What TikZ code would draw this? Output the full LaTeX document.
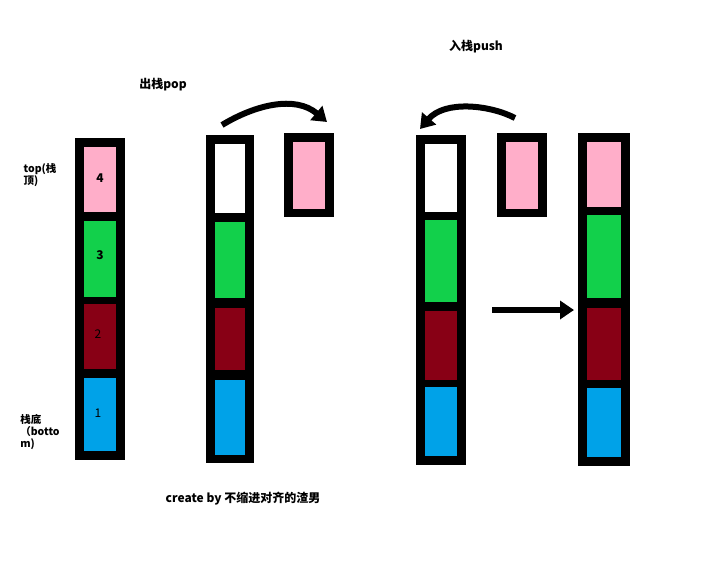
\documentclass[tikz,border=0pt]{standalone}
\usepackage{fontspec}
\setmainfont{Noto Sans CJK SC}
\usetikzlibrary{arrows.meta}
\definecolor{cellpink}{HTML}{FFAEC9}
\definecolor{cellgreen}{HTML}{12D04B}
\definecolor{cellred}{HTML}{880015}
\definecolor{cellblue}{HTML}{00A2E8}
\tikzset{
  frame/.style={draw=black,line width=7pt},
  cell/.style={draw=none},
  push arrow/.style={line width=6pt,-{Triangle[length=14pt,width=18pt]}},
  lbl/.style={font=\bfseries\fontsize{12pt}{14pt}\selectfont},
}
\begin{document}
\begin{tikzpicture}[x=1pt,y=-1pt]
    \useasboundingbox (0,0) rectangle (710,586);
    % stack 1
    \fill[black] (75,138) rectangle (125,460);
    \fill[cellpink] (84,147) rectangle (116,212);
    \fill[cellgreen] (84,221) rectangle (116,297);
    \fill[cellred] (84,304) rectangle (116,369);
    \fill[cellblue] (84,378) rectangle (116,451);
    \node[lbl] (n4) at (100,178) {4};
    \node[lbl] (n3) at (100,255) {3};
    \node[font=\fontsize{12pt}{14pt}\selectfont] (n2) at (98,334) {2};
    \node[font=\fontsize{12pt}{14pt}\selectfont] (n1) at (98,413) {1};
    % stack 2 (after pop)
    \fill[black] (206,135) rectangle (254,463);
    \fill[white] (215,144) rectangle (245,213);
    \fill[cellgreen] (215,222) rectangle (245,298);
    \fill[cellred] (215,308) rectangle (245,370);
    \fill[cellblue] (215,380) rectangle (245,455);
    \fill[black] (284,133) rectangle (334,217);
    \fill[cellpink] (293,142) rectangle (325,209);
    % stack 3 (before push)
    \fill[black] (416,135) rectangle (466,465);
    \fill[white] (425,144) rectangle (457,212);
    \fill[cellgreen] (425,220) rectangle (457,302);
    \fill[cellred] (425,311) rectangle (457,380);
    \fill[cellblue] (425,387) rectangle (457,456);
    \fill[black] (497,133) rectangle (547,217);
    \fill[cellpink] (506,142) rectangle (538,209);
    % stack 4 (after push)
    \fill[black] (578,133) rectangle (630,466);
    \fill[cellpink] (587,142) rectangle (621,207);
    \fill[cellgreen] (587,215) rectangle (621,298);
    \fill[cellred] (587,308) rectangle (621,380);
    \fill[cellblue] (587,388) rectangle (621,457);
    % arrows
    \coordinate (popA) at (222,125);
    \coordinate (popB) at (327,122);
    \coordinate (pushA) at (515,118);
    \coordinate (pushB) at (420,129);
    \coordinate (moveA) at (492,310);
    \coordinate (moveB) at (574,310);
    \draw[push arrow] (popA) .. controls (255,105) and (295,95) .. (popB);
    \draw[push arrow] (pushA) .. controls (490,105) and (445,100) .. (pushB);
    \draw[push arrow] (moveA) -- (moveB);
    % labels
    \node[lbl] (popT) at (163,85) {出栈pop};
    \node[lbl] (pushT) at (476,47) {入栈push};
    \node[lbl,font=\bfseries\fontsize{10.5pt}{12pt}\selectfont,align=left] (topT) at (40,175) {top(栈\\顶)};
    \node[lbl,font=\bfseries\fontsize{10.5pt}{12pt}\selectfont,align=left] (botT) at (40,432) {栈底\\ （botto\\m)};
    \node[lbl] (credit) at (243,499) {create by 不缩进对齐的渣男};
\end{tikzpicture}
\end{document}
